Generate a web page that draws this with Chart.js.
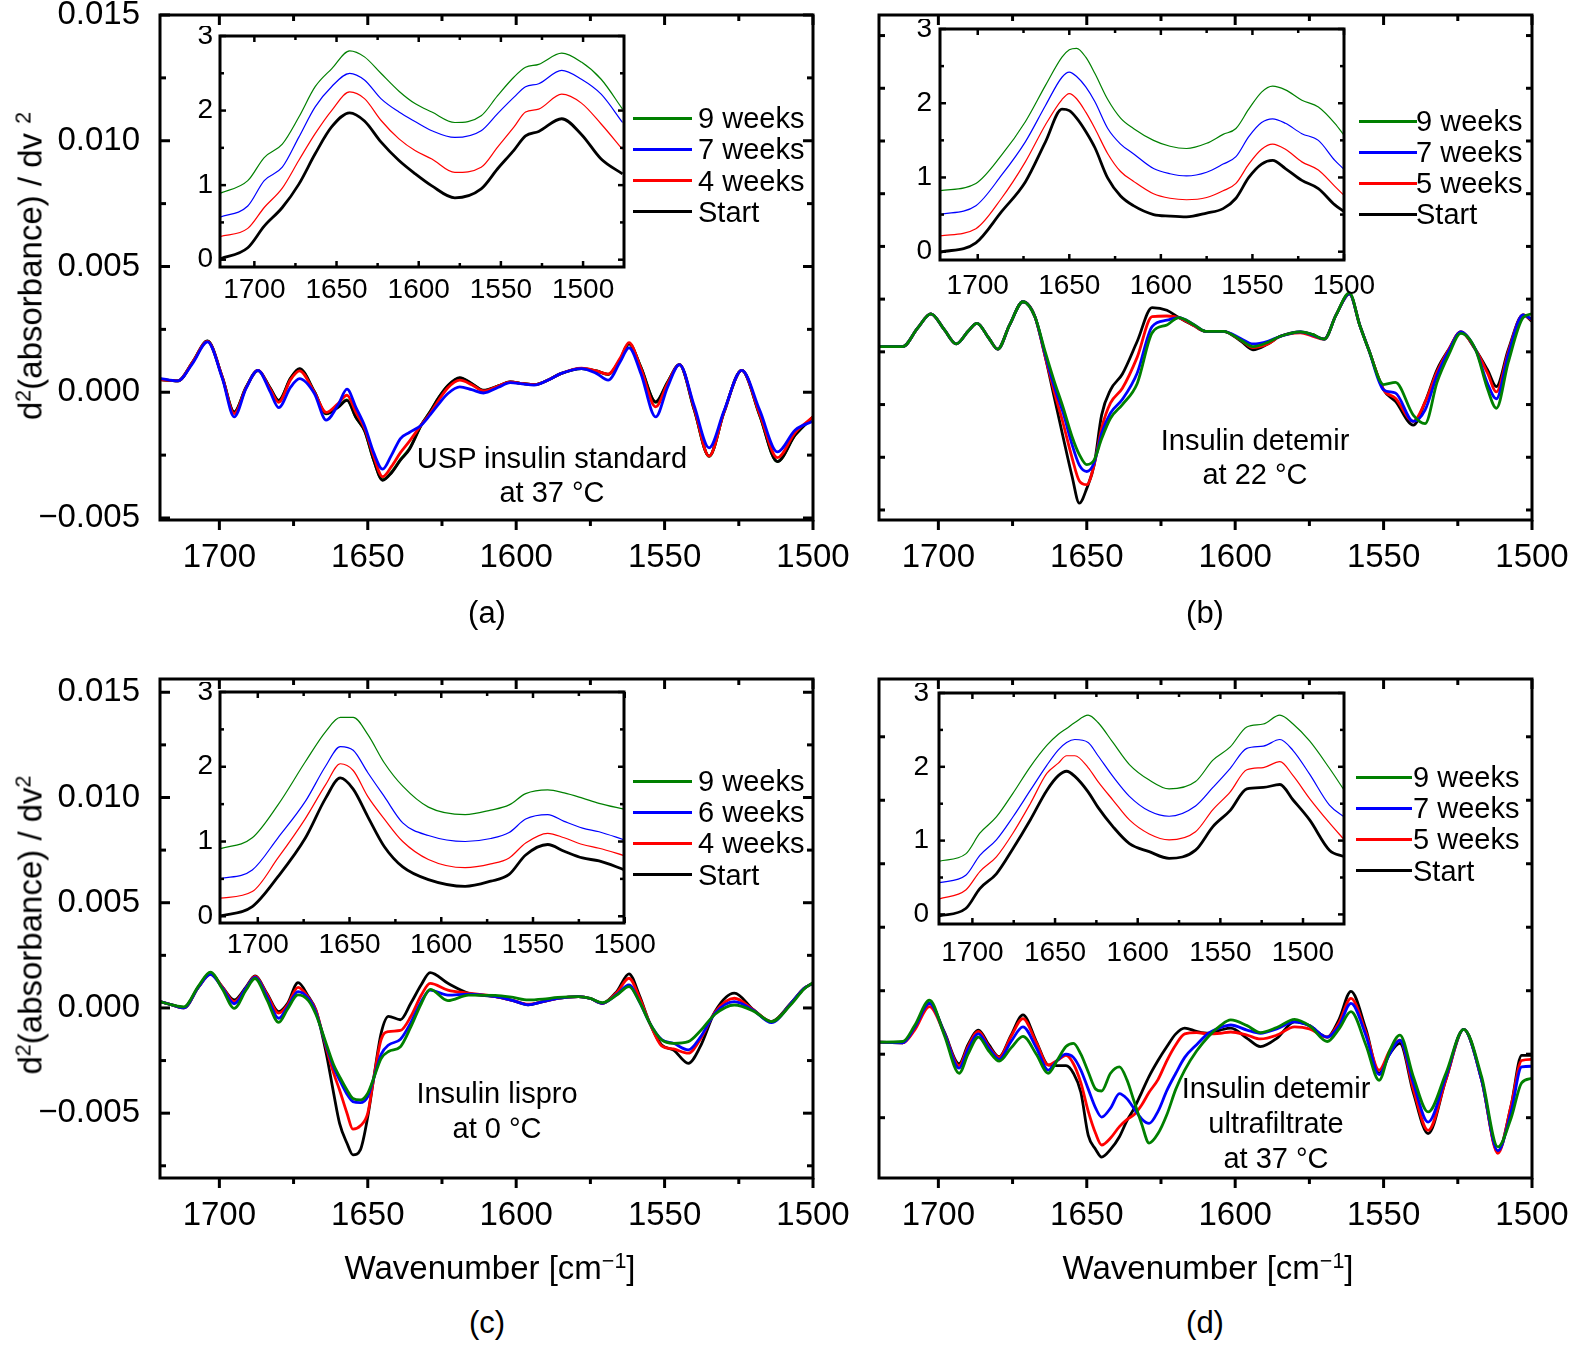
<!DOCTYPE html>
<html>
<head>
<meta charset="utf-8">
<script src="https://cdn.jsdelivr.net/npm/chart.js@4.4.1/dist/chart.umd.min.js"></script>
<style>
  body { margin: 0; background: #fff; }
  #page { position: relative; width: 1572px; height: 1345px; overflow: hidden; background: #fff;
          font-family: "Liberation Sans", Arial, Helvetica, sans-serif; color: #000; }
  canvas { position: absolute; }
  .txt { position: absolute; white-space: nowrap; line-height: 1; }
  .txt sup { font-size: 65%; position: relative; top: -0.5em; vertical-align: baseline; }
  .leg-line { position: absolute; height: 3px; }
</style>
</head>
<body>
<div id="page"></div>
<script>
// second derivative values are in units of 1e-3 (tick labels are formatted back)
const xTicksMajor = [1700, 1650, 1600, 1550, 1500];
const xTicksMinor = [1675, 1625, 1575, 1525];
const insetYMajor = [0, 1, 2, 3];
const insetYMinor = [0.5, 1.5, 2.5];

// ---- (a) USP insulin standard at 37 °C
const aLabels = ['9 weeks', '7 weeks', '4 weeks', 'Start'];
const aWave = [1720, 1714, 1709, 1704, 1699, 1695, 1691, 1687, 1683, 1680, 1676, 1673, 1668, 1664, 1660, 1657, 1654, 1651, 1648, 1645, 1642, 1639, 1636, 1632, 1629, 1626, 1623, 1619, 1615, 1611, 1606, 1602, 1598, 1594, 1589, 1585, 1578, 1573, 1569, 1565, 1562, 1558, 1553, 1549, 1545, 1540, 1535, 1530, 1524, 1518, 1512, 1506, 1500];
const aStart = [0.50, 0.45, 1.20, 2.04, 0.60, -0.78, 0.20, 0.87, 0.20, -0.32, 0.56, 0.94, 0.03, -0.85, -0.60, -0.32, -1.00, -1.55, -2.70, -3.50, -3.20, -2.70, -2.28, -1.31, -0.78, -0.19, 0.27, 0.58, 0.35, 0.08, 0.25, 0.41, 0.35, 0.30, 0.50, 0.74, 0.94, 0.85, 0.71, 1.30, 1.93, 1.00, -0.38, 0.40, 1.10, -0.70, -2.54, -0.80, 0.87, -0.90, -2.76, -1.70, -0.98];
const aWk4 = [0.50, 0.45, 1.20, 2.02, 0.60, -0.85, 0.18, 0.87, 0.15, -0.40, 0.50, 0.85, 0.00, -0.80, -0.45, -0.12, -0.80, -1.45, -2.55, -3.36, -2.95, -2.40, -1.95, -1.30, -0.85, -0.30, 0.18, 0.48, 0.30, 0.05, 0.25, 0.41, 0.35, 0.30, 0.50, 0.74, 0.96, 0.85, 0.72, 1.35, 1.97, 0.95, -0.58, 0.35, 1.10, -0.65, -2.54, -0.80, 0.87, -0.85, -2.60, -1.60, -0.98];
const aWk7 = [0.55, 0.45, 1.15, 2.00, 0.55, -0.98, 0.15, 0.87, 0.05, -0.61, 0.20, 0.54, -0.05, -1.11, -0.50, 0.12, -0.60, -1.35, -2.40, -3.06, -2.50, -1.84, -1.60, -1.31, -0.90, -0.45, -0.05, 0.21, 0.10, -0.03, 0.20, 0.38, 0.33, 0.28, 0.50, 0.74, 0.94, 0.75, 0.48, 1.20, 1.77, 0.75, -0.98, 0.20, 1.10, -0.55, -2.21, -0.75, 0.87, -0.70, -2.37, -1.50, -1.15];
const aWk9 = [0.50, 0.45, 1.20, 2.03, 0.60, -0.80, 0.20, 0.86, 0.18, -0.34, 0.55, 0.92, 0.02, -0.86, -0.58, -0.30, -1.00, -1.55, -2.70, -3.48, -3.18, -2.68, -2.25, -1.31, -0.78, -0.20, 0.26, 0.56, 0.34, 0.07, 0.25, 0.41, 0.35, 0.30, 0.50, 0.74, 0.94, 0.85, 0.71, 1.30, 1.92, 1.00, -0.40, 0.40, 1.10, -0.70, -2.55, -0.80, 0.87, -0.90, -2.75, -1.70, -0.98];
const aInWave = [1721, 1704, 1694, 1683, 1673, 1663, 1653, 1642, 1633, 1623, 1612, 1602, 1592, 1578, 1562, 1552, 1542, 1535, 1527, 1513, 1501, 1489, 1476];
const aInStart = [0.01, 0.16, 0.45, 0.70, 1.01, 1.42, 1.78, 1.97, 1.86, 1.58, 1.33, 1.15, 0.99, 0.83, 0.95, 1.22, 1.47, 1.66, 1.72, 1.89, 1.68, 1.35, 1.15];
const aInWk4 = [0.31, 0.42, 0.70, 0.96, 1.33, 1.69, 2.00, 2.25, 2.16, 1.87, 1.62, 1.46, 1.35, 1.17, 1.24, 1.51, 1.78, 1.98, 2.02, 2.22, 2.10, 1.82, 1.48];
const aInWk7 = [0.57, 0.72, 1.06, 1.24, 1.64, 2.05, 2.32, 2.50, 2.41, 2.16, 1.98, 1.85, 1.73, 1.64, 1.73, 1.96, 2.18, 2.32, 2.36, 2.54, 2.42, 2.22, 1.84];
const aInWk9 = [0.89, 1.06, 1.37, 1.55, 1.91, 2.32, 2.56, 2.80, 2.72, 2.50, 2.26, 2.09, 1.98, 1.84, 1.93, 2.20, 2.45, 2.58, 2.62, 2.77, 2.65, 2.42, 2.02];

// ---- (b) Insulin detemir at 22 °C
const bLabels = ['9 weeks', '7 weeks', '5 weeks', 'Start'];
const bWave = [1720, 1712, 1707, 1702.5, 1698, 1694, 1690, 1687, 1683, 1680, 1676, 1671.5, 1667.5, 1664, 1661, 1658, 1655, 1652.5, 1650, 1647.5, 1645, 1642, 1638, 1633, 1628, 1623, 1619, 1614, 1610, 1604, 1598, 1594, 1589, 1585, 1578, 1574, 1570, 1566, 1561.5, 1558, 1555, 1550, 1546, 1540, 1536, 1532, 1528, 1524, 1519, 1515, 1512, 1508, 1503, 1500];
const bStart = [0.10, 0.10, 0.45, 0.72, 0.42, 0.15, 0.39, 0.54, 0.26, 0.05, 0.51, 0.95, 0.67, -0.09, -0.85, -1.61, -2.35, -2.87, -2.59, -2.14, -1.20, -0.72, -0.42, 0.20, 0.84, 0.79, 0.65, 0.50, 0.39, 0.39, 0.20, 0.04, 0.15, 0.29, 0.38, 0.33, 0.24, 0.70, 1.10, 0.50, 0.04, -0.72, -0.94, -1.39, -0.95, -0.34, 0.05, 0.38, 0.04, -0.34, -0.66, 0.04, 0.70, 0.58];
const bWk5 = [0.10, 0.10, 0.45, 0.72, 0.42, 0.15, 0.39, 0.54, 0.26, 0.05, 0.51, 0.95, 0.67, -0.09, -0.75, -1.35, -2.00, -2.45, -2.52, -2.14, -1.45, -0.97, -0.69, -0.10, 0.67, 0.68, 0.65, 0.50, 0.39, 0.39, 0.22, 0.08, 0.15, 0.29, 0.36, 0.30, 0.24, 0.70, 1.10, 0.50, 0.04, -0.72, -0.88, -1.32, -0.95, -0.38, 0.05, 0.38, 0.04, -0.40, -0.76, 0.00, 0.70, 0.60];
const bWk7 = [0.10, 0.10, 0.45, 0.72, 0.42, 0.15, 0.39, 0.54, 0.26, 0.05, 0.51, 0.95, 0.67, -0.05, -0.65, -1.15, -1.75, -2.15, -2.27, -2.10, -1.55, -1.16, -0.90, -0.40, 0.48, 0.60, 0.65, 0.52, 0.39, 0.39, 0.25, 0.15, 0.20, 0.29, 0.38, 0.32, 0.24, 0.70, 1.10, 0.50, 0.04, -0.72, -0.78, -1.32, -1.10, -0.45, 0.02, 0.38, 0.04, -0.60, -0.89, -0.05, 0.70, 0.62];
const bWk9 = [0.10, 0.10, 0.45, 0.72, 0.42, 0.15, 0.39, 0.54, 0.26, 0.05, 0.51, 0.95, 0.67, 0.00, -0.55, -1.05, -1.60, -1.95, -2.14, -2.05, -1.65, -1.26, -1.00, -0.60, 0.36, 0.51, 0.65, 0.52, 0.39, 0.39, 0.22, 0.10, 0.18, 0.29, 0.38, 0.33, 0.24, 0.70, 1.12, 0.50, 0.04, -0.62, -0.58, -1.20, -1.36, -0.58, -0.05, 0.35, 0.04, -0.70, -1.07, -0.20, 0.65, 0.72];
const bInWave = [1721, 1701, 1687, 1674, 1663, 1654, 1650, 1646, 1641, 1636, 1629, 1622, 1615, 1604, 1595, 1586, 1575, 1566, 1559, 1552, 1545, 1539, 1532, 1523, 1514, 1505, 1500];
const bInStart = [-0.01, 0.12, 0.54, 0.94, 1.48, 1.92, 1.90, 1.80, 1.62, 1.40, 0.99, 0.75, 0.62, 0.50, 0.48, 0.47, 0.52, 0.58, 0.72, 1.00, 1.18, 1.23, 1.12, 0.96, 0.85, 0.63, 0.54];
const bInWk5 = [0.21, 0.31, 0.72, 1.21, 1.71, 2.05, 2.13, 2.06, 1.88, 1.66, 1.32, 1.08, 0.95, 0.78, 0.72, 0.70, 0.73, 0.82, 0.92, 1.18, 1.38, 1.45, 1.38, 1.21, 1.10, 0.88, 0.76];
const bInWk7 = [0.50, 0.62, 1.03, 1.48, 1.97, 2.35, 2.42, 2.36, 2.22, 2.02, 1.66, 1.45, 1.32, 1.12, 1.05, 1.02, 1.07, 1.18, 1.28, 1.55, 1.74, 1.79, 1.73, 1.59, 1.50, 1.23, 1.11];
const bInWk9 = [0.82, 0.92, 1.30, 1.75, 2.24, 2.62, 2.72, 2.74, 2.62, 2.40, 2.05, 1.80, 1.66, 1.50, 1.42, 1.39, 1.46, 1.58, 1.66, 1.92, 2.15, 2.23, 2.18, 2.04, 1.95, 1.73, 1.57];

// ---- (c) Insulin lispro at 0 °C
const cLabels = ['9 weeks', '6 weeks', '4 weeks', 'Start'];
const cWave = [1720, 1716, 1712, 1707, 1703, 1699, 1695, 1691, 1688, 1684, 1680, 1677, 1673.5, 1670, 1667.5, 1664, 1661.5, 1659.5, 1657, 1655, 1652.5, 1650, 1648, 1645.5, 1643, 1639, 1635.5, 1632, 1629, 1623, 1616, 1607, 1601, 1596, 1591, 1586, 1579, 1575, 1571, 1566, 1562, 1558.5, 1555, 1551, 1547, 1542, 1538, 1533, 1526.5, 1520, 1514, 1507.5, 1503, 1500];
const cStart = [0.30, 0.15, 0.00, 1.00, 1.65, 1.00, 0.38, 1.00, 1.52, 0.70, -0.17, 0.22, 1.20, 0.54, -0.10, -2.15, -4.05, -5.48, -6.43, -6.98, -6.74, -5.16, -3.34, -1.20, -0.40, -0.56, 0.22, 1.10, 1.68, 1.17, 0.70, 0.54, 0.35, 0.15, 0.30, 0.46, 0.54, 0.45, 0.22, 0.80, 1.62, 0.60, -0.72, -1.76, -2.00, -2.63, -1.84, -0.17, 0.70, -0.09, -0.65, 0.22, 0.93, 1.17];
const cWk4 = [0.30, 0.15, 0.00, 1.00, 1.60, 1.00, 0.30, 0.95, 1.50, 0.65, -0.25, 0.15, 0.98, 0.50, -0.10, -1.90, -3.10, -3.90, -5.00, -5.76, -5.60, -5.00, -3.34, -1.50, -1.12, -1.07, -0.41, 0.60, 1.17, 0.85, 0.70, 0.54, 0.35, 0.18, 0.30, 0.46, 0.54, 0.45, 0.22, 0.75, 1.41, 0.50, -0.72, -1.80, -1.95, -2.15, -1.50, -0.20, 0.46, -0.10, -0.65, 0.20, 0.93, 1.17];
const cWk6 = [0.30, 0.15, 0.00, 1.00, 1.60, 0.95, 0.20, 0.95, 1.45, 0.55, -0.49, 0.05, 0.78, 0.45, -0.20, -1.80, -2.80, -3.42, -4.10, -4.45, -4.50, -4.21, -3.34, -2.20, -1.76, -1.49, -0.70, 0.30, 0.85, 0.61, 0.66, 0.54, 0.35, 0.15, 0.30, 0.46, 0.54, 0.45, 0.22, 0.65, 1.09, 0.30, -0.72, -1.50, -1.68, -1.99, -1.40, -0.25, 0.30, -0.12, -0.70, 0.20, 0.93, 1.17];
const cWk9 = [0.30, 0.15, 0.05, 1.05, 1.70, 0.90, -0.02, 0.85, 1.40, 0.40, -0.69, -0.05, 0.62, 0.35, -0.30, -1.70, -2.70, -3.26, -3.90, -4.30, -4.37, -4.05, -3.34, -2.40, -2.07, -1.84, -0.90, 0.20, 0.88, 0.35, 0.61, 0.60, 0.50, 0.38, 0.42, 0.50, 0.54, 0.45, 0.25, 0.62, 1.01, 0.30, -0.72, -1.52, -1.68, -1.60, -1.10, -0.30, 0.14, -0.15, -0.65, 0.15, 0.90, 1.20];
const cInWave = [1721, 1703, 1689, 1674, 1663, 1655, 1648, 1640, 1631, 1621, 1607, 1587, 1573, 1563, 1554, 1542, 1533, 1523, 1514, 1500];
const cInStart = [0.00, 0.13, 0.53, 1.05, 1.58, 1.85, 1.70, 1.33, 0.93, 0.66, 0.49, 0.40, 0.47, 0.56, 0.82, 0.96, 0.87, 0.78, 0.74, 0.62];
const cInWk4 = [0.24, 0.33, 0.78, 1.31, 1.76, 2.04, 1.95, 1.60, 1.30, 1.00, 0.76, 0.65, 0.70, 0.78, 0.98, 1.11, 1.05, 0.96, 0.91, 0.81];
const cInWk6 = [0.50, 0.62, 1.05, 1.54, 2.01, 2.27, 2.22, 1.92, 1.60, 1.25, 1.08, 1.00, 1.04, 1.12, 1.30, 1.36, 1.27, 1.18, 1.13, 1.02];
const cInWk9 = [0.90, 1.05, 1.49, 2.07, 2.47, 2.66, 2.66, 2.43, 2.05, 1.74, 1.46, 1.36, 1.42, 1.49, 1.64, 1.69, 1.65, 1.58, 1.51, 1.43];

// ---- (d) Insulin detemir ultrafiltrate at 37 °C
const dLabels = ['9 weeks', '7 weeks', '5 weeks', 'Start'];
const dWave = [1720, 1712, 1708, 1703, 1698, 1693, 1690, 1686.5, 1683, 1679.5, 1675.5, 1671.5, 1667, 1663, 1660, 1657, 1654.5, 1652, 1649.5, 1647, 1645, 1642, 1639, 1636.5, 1634, 1631.5, 1629, 1626, 1623, 1620, 1617, 1613, 1609, 1605, 1601.5, 1596, 1591.5, 1586, 1580, 1575, 1569, 1565, 1561, 1556, 1551.5, 1548, 1544.5, 1540, 1535, 1529, 1523, 1517, 1511.5, 1507, 1503.5, 1500];
const dStart = [0.19, 0.18, 0.40, 0.80, 0.35, -0.15, 0.15, 0.38, 0.15, -0.04, 0.30, 0.62, 0.20, -0.17, -0.18, -0.18, -0.30, -0.60, -1.28, -1.50, -1.62, -1.50, -1.30, -1.05, -0.85, -0.60, -0.35, -0.10, 0.12, 0.32, 0.41, 0.36, 0.33, 0.38, 0.41, 0.25, 0.12, 0.25, 0.51, 0.45, 0.27, 0.55, 0.99, 0.40, -0.30, 0.00, 0.17, -0.60, -1.25, -0.40, 0.39, -0.40, -1.54, -0.80, -0.02, -0.02];
const dWk5 = [0.19, 0.18, 0.38, 0.75, 0.33, -0.18, 0.12, 0.36, 0.12, -0.05, 0.28, 0.56, 0.18, -0.17, -0.10, -0.02, -0.15, -0.45, -0.90, -1.25, -1.43, -1.32, -1.14, -1.03, -0.95, -0.80, -0.60, -0.40, -0.10, 0.15, 0.32, 0.34, 0.32, 0.33, 0.35, 0.30, 0.24, 0.30, 0.43, 0.40, 0.27, 0.50, 0.88, 0.35, -0.25, 0.05, 0.22, -0.55, -1.20, -0.40, 0.39, -0.40, -1.56, -0.80, -0.10, -0.08];
const dWk7 = [0.19, 0.18, 0.42, 0.80, 0.33, -0.22, 0.08, 0.32, 0.10, -0.08, 0.20, 0.43, 0.10, -0.25, -0.10, 0.00, -0.05, -0.25, -0.55, -0.85, -0.99, -0.85, -0.62, -0.70, -0.86, -1.02, -1.09, -0.90, -0.57, -0.30, -0.05, 0.15, 0.33, 0.42, 0.46, 0.38, 0.33, 0.40, 0.51, 0.45, 0.27, 0.45, 0.80, 0.30, -0.32, 0.00, 0.22, -0.45, -1.07, -0.35, 0.39, -0.40, -1.52, -0.90, -0.20, -0.19];
const dWk9 = [0.19, 0.20, 0.45, 0.85, 0.30, -0.30, 0.00, 0.27, 0.05, -0.11, 0.10, 0.28, 0.00, -0.30, -0.10, 0.12, 0.17, 0.00, -0.28, -0.55, -0.58, -0.30, -0.20, -0.40, -0.75, -1.10, -1.40, -1.25, -0.95, -0.55, -0.25, 0.05, 0.28, 0.45, 0.54, 0.45, 0.34, 0.42, 0.55, 0.45, 0.20, 0.40, 0.67, 0.15, -0.41, 0.05, 0.30, -0.35, -0.91, -0.30, 0.39, -0.35, -1.46, -1.00, -0.45, -0.38];
const dInWave = [1720, 1704, 1695.5, 1685.5, 1675.5, 1665, 1655, 1648, 1643, 1638, 1630, 1624, 1615, 1605, 1593, 1581, 1565, 1554.5, 1544, 1534, 1524, 1514, 1506, 1496, 1484, 1475];
const dInStart = [-0.02, 0.08, 0.35, 0.55, 0.89, 1.28, 1.68, 1.88, 1.94, 1.87, 1.66, 1.45, 1.19, 0.96, 0.85, 0.76, 0.87, 1.19, 1.41, 1.70, 1.72, 1.76, 1.55, 1.28, 0.87, 0.78];
const dInWk5 = [0.21, 0.33, 0.58, 0.78, 1.10, 1.50, 1.91, 2.05, 2.15, 2.15, 1.99, 1.80, 1.55, 1.28, 1.09, 1.01, 1.12, 1.42, 1.66, 1.96, 1.99, 2.07, 1.88, 1.57, 1.24, 1.01];
const dInWk7 = [0.43, 0.53, 0.80, 1.01, 1.32, 1.68, 2.02, 2.23, 2.33, 2.37, 2.33, 2.15, 1.87, 1.60, 1.40, 1.33, 1.47, 1.72, 1.98, 2.25, 2.28, 2.37, 2.22, 1.90, 1.48, 1.32];
const dInWk9 = [0.72, 0.82, 1.10, 1.32, 1.64, 2.00, 2.29, 2.44, 2.52, 2.60, 2.70, 2.60, 2.33, 2.03, 1.82, 1.70, 1.80, 2.09, 2.27, 2.54, 2.58, 2.70, 2.58, 2.35, 1.98, 1.68];

const COLORS = ['#008000', '#0000ff', '#ff0000', '#000000']; // 9 wk, mid, early, start
const FONT = '"Liberation Sans", Arial, Helvetica, sans-serif';
const page = document.getElementById('page');

// box frame + inward/outward tick marks, positioned through the chart scales
const frameTicks = {
  id: 'frameTicks',
  afterDatasetsDraw(chart, args, o) {
    const { ctx, chartArea: a, scales: { x, y } } = chart;
    ctx.save();
    ctx.strokeStyle = '#000';
    ctx.lineWidth = o.tickWidth;
    ctx.lineCap = 'butt';
    const line = (x0, y0, x1, y1) => { ctx.beginPath(); ctx.moveTo(x0, y0); ctx.lineTo(x1, y1); ctx.stroke(); };
    const xt = o.xMajor.map((v) => [v, o.majorLen]).concat(o.xMinor.map((v) => [v, o.minorLen]));
    xt.forEach(([v, len]) => {
      const px = x.getPixelForValue(v);
      if (px < a.left - 1 || px > a.right + 1) return;
      line(px, a.top, px, a.top + len);
      if (o.bottomOut) line(px, a.bottom, px, a.bottom + len);
      else line(px, a.bottom, px, a.bottom - len);
    });
    const yt = o.yMajor.map((v) => [v, o.majorLen]).concat(o.yMinor.map((v) => [v, o.minorLen]));
    yt.forEach(([v, len]) => {
      const py = y.getPixelForValue(v);
      if (py < a.top - 1 || py > a.bottom + 1) return;
      line(a.left, py, a.left + len, py);
      line(a.right, py, a.right - len, py);
    });
    ctx.lineWidth = o.frameWidth;
    ctx.strokeRect(a.left, a.top, a.right - a.left, a.bottom - a.top);
    ctx.restore();
  },
};

// keep the plot box exactly where it belongs: no label overflow padding
function noPad(sc) {
  sc.paddingLeft = 0;
  sc.paddingRight = 0;
  sc.paddingTop = 0;
  sc.paddingBottom = 0;
}

function makeChart(s) {
  const w = s.yw + (s.R - s.L) + s.padRight;
  const h = s.padTop + (s.B - s.T) + s.xh;
  const canvas = document.createElement('canvas');
  canvas.width = w;
  canvas.height = h;
  canvas.style.width = w + 'px';
  canvas.style.height = h + 'px';
  canvas.style.left = (s.L - s.yw) + 'px';
  canvas.style.top = (s.T - s.padTop) + 'px';
  page.appendChild(canvas);

  const datasets = s.series.map((vals, i) => ({
    label: s.labels[i],
    data: s.wave.map((wn, k) => ({ x: wn, y: vals[k] })),
    borderColor: COLORS[i],
    borderWidth: s.widths[i],
    order: s.order[i],
    pointRadius: 0,
    fill: false,
    cubicInterpolationMode: 'monotone',
  }));

  new Chart(canvas, {
    type: 'line',
    data: { datasets },
    plugins: [frameTicks],
    options: {
      responsive: false,
      animation: false,
      devicePixelRatio: 1,
      layout: { autoPadding: false, padding: { left: 0, top: s.padTop, right: s.padRight, bottom: 0 } },
      scales: {
        x: {
          type: 'linear',
          reverse: true,
          min: s.xMin,
          max: s.xMax,
          afterBuildTicks: (sc) => { sc.ticks = xTicksMajor.map((v) => ({ value: v })); },
          afterFit: (sc) => { sc.height = s.xh; noPad(sc); },
          grid: { display: false, drawTicks: false },
          border: { display: false },
          ticks: {
            color: '#000',
            font: { family: FONT, size: s.xFont },
            padding: s.xPad,
            maxRotation: 0,
            autoSkip: false,
            callback: (v) => String(v),
          },
        },
        y: {
          type: 'linear',
          min: s.yMin,
          max: s.yMax,
          afterBuildTicks: (sc) => { sc.ticks = s.yLabels.map((v) => ({ value: v })); },
          afterFit: (sc) => { sc.width = s.yw; noPad(sc); },
          grid: { display: false, drawTicks: false },
          border: { display: false },
          ticks: {
            display: s.yLabels.length > 0,
            color: '#000',
            font: { family: FONT, size: s.yFont },
            padding: s.yPad,
            autoSkip: false,
            callback: s.yFormat,
          },
        },
      },
      plugins: {
        legend: { display: false },
        tooltip: { enabled: false },
        frameTicks: {
          xMajor: xTicksMajor, xMinor: xTicksMinor,
          yMajor: s.yMajor, yMinor: s.yMinor,
          majorLen: s.majorLen, minorLen: s.minorLen,
          bottomOut: s.bottomOut, tickWidth: s.tickWidth, frameWidth: s.frameWidth,
        },
      },
    },
  });
}

const mainFormat = (v) => (v < 0 ? '\u2212' : '') + (Math.abs(v) / 1000).toFixed(3);
const insetFormat = (v) => String(v);

function mainChart(extra) {
  makeChart(Object.assign({
    xMin: 1500, xMax: 1720, padRight: 45, xh: 80,
    xFont: 33, yFont: 33, xPad: 18, yPad: 20,
    widths: [2.8, 2.8, 2.8, 2.8], order: [0, 1, 2, 3],
    majorLen: 10, minorLen: 6, bottomOut: true, tickWidth: 3, frameWidth: 3,
    yFormat: mainFormat,
  }, extra));
}

function insetChart(extra) {
  makeChart(Object.assign({
    yw: 40, xh: 45, padTop: 10, padRight: 40,
    xFont: 28, yFont: 28,
    widths: [1.2, 1.2, 1.2, 2.8], order: [0, 1, 2, 3],
    yLabels: insetYMajor, yMajor: insetYMajor, yMinor: insetYMinor,
    majorLen: 6, minorLen: 4, bottomOut: false, tickWidth: 2.5, frameWidth: 3,
    yFormat: insetFormat, yMin: -0.1, yMax: 3,
  }, extra));
}

// main panels
mainChart({ L: 160, R: 813, T: 15, B: 520, yw: 160, padTop: 15, yMin: -5.08, yMax: 15,
  wave: aWave, series: [aWk9, aWk7, aWk4, aStart], labels: aLabels, order: [3, 0, 1, 2],
  yLabels: [-5, 0, 5, 10, 15], yMajor: [-5, 0, 5, 10, 15], yMinor: [-2.5, 2.5, 7.5, 12.5] });
mainChart({ L: 879, R: 1532, T: 15, B: 520, yw: 40, padTop: 15, padRight: 40, yMin: -3.19, yMax: 6.39,
  wave: bWave, series: [bWk9, bWk7, bWk5, bStart], labels: bLabels,
  yLabels: [], yMajor: [], yMinor: [-3, -2, -1, 0, 1, 2, 3, 4, 5, 6] });
mainChart({ L: 160, R: 813, T: 679, B: 1178, yw: 160, padTop: 15, yMin: -8.08, yMax: 15.63,
  wave: cWave, series: [cWk9, cWk6, cWk4, cStart], labels: cLabels,
  yLabels: [-5, 0, 5, 10, 15], yMajor: [-5, 0, 5, 10, 15], yMinor: [-7.5, -2.5, 2.5, 7.5, 12.5] });
mainChart({ L: 879, R: 1532, T: 679, B: 1178, yw: 40, padTop: 15, padRight: 40, yMin: -1.95, yMax: 5.91,
  wave: dWave, series: [dWk9, dWk7, dWk5, dStart], labels: dLabels,
  yLabels: [], yMajor: [], yMinor: [-1, 0, 1, 2, 3, 4, 5] });

// insets
insetChart({ L: 220, R: 624, T: 36, B: 267, xMin: 1475.1, xMax: 1720.9, yMin: -0.098, xPad: 6, yPad: 7,
  wave: aInWave, series: [aInWk9, aInWk7, aInWk4, aInStart], labels: aLabels });
insetChart({ L: 940, R: 1344, T: 29, B: 260, xMin: 1500, xMax: 1720.6, yMin: -0.112, xPad: 9, yPad: 8,
  wave: bInWave, series: [bInWk9, bInWk7, bInWk5, bInStart], labels: bLabels });
insetChart({ L: 220, R: 624, T: 692, B: 923, xMin: 1500.4, xMax: 1720.6, yMin: -0.09, xPad: 5, yPad: 7,
  wave: cInWave, series: [cInWk9, cInWk6, cInWk4, cInStart], labels: cLabels });
insetChart({ L: 939, R: 1344, T: 693, B: 924, xMin: 1475.2, xMax: 1720.2, yMin: -0.13, xPad: 12, yPad: 10,
  wave: dInWave, series: [dInWk9, dInWk7, dInWk5, dInStart], labels: dLabels });

// text overlays
function addText(html, cx, cy, size, rotate) {
  const d = document.createElement('div');
  d.className = 'txt';
  d.innerHTML = html;
  d.style.left = cx + 'px';
  d.style.top = cy + 'px';
  d.style.fontSize = size + 'px';
  d.style.transform = 'translate(-50%, -50%)' + (rotate ? ' rotate(-90deg)' : '');
  page.appendChild(d);
}

function addLegend(labels, x0, x1, tx, y0, step) {
  labels.forEach((lab, i) => {
    const y = y0 + i * step;
    const l = document.createElement('div');
    l.className = 'leg-line';
    l.style.left = x0 + 'px';
    l.style.width = (x1 - x0) + 'px';
    l.style.top = (y - 1.5) + 'px';
    l.style.background = COLORS[i];
    page.appendChild(l);
    const t = document.createElement('div');
    t.className = 'txt';
    t.textContent = lab;
    t.style.left = tx + 'px';
    t.style.top = y + 'px';
    t.style.fontSize = '29px';
    t.style.transform = 'translateY(-50%)';
    page.appendChild(t);
  });
}

addLegend(aLabels, 633, 692, 698, 118, 31.3);
addLegend(bLabels, 1359, 1417, 1416, 121, 31);
addLegend(cLabels, 633, 692, 698, 781, 31.2);
addLegend(dLabels, 1356, 1412, 1413, 777, 31.2);

addText('USP insulin standard', 552, 458, 29);
addText('at 37 °C', 552, 492, 29);
addText('Insulin detemir', 1255, 440, 29);
addText('at 22 °C', 1255, 474, 29);
addText('Insulin lispro', 497, 1093, 29);
addText('at 0 °C', 497, 1128, 29);
addText('Insulin detemir', 1276, 1088, 29);
addText('ultrafiltrate', 1276, 1123, 29);
addText('at 37 °C', 1276, 1158, 29);

addText('d<sup>2</sup>(absorbance) / dv <sup>2</sup>', 30, 266, 33, true);
addText('d<sup>2</sup>(absorbance) / dv<sup>2</sup>', 30, 925, 33, true);
addText('Wavenumber [cm<sup>\u22121</sup>]', 490, 1267, 33);
addText('Wavenumber [cm<sup>\u22121</sup>]', 1208, 1267, 33);

addText('(a)', 487, 612, 31);
addText('(b)', 1205, 612, 31);
addText('(c)', 487, 1322, 31);
addText('(d)', 1205, 1322, 31);
</script>
</body>
</html>
